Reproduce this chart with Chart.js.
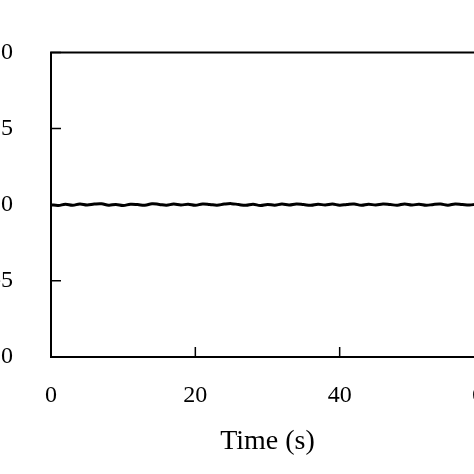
<!DOCTYPE html>
<html><head><meta charset="utf-8">
<script src="https://cdn.jsdelivr.net/npm/chart.js@4"></script>
<style>html,body{margin:0;padding:0;overflow:hidden;width:474px;height:474px;background:#fff}
#w{position:absolute;left:-10px;top:0;width:620px;height:474px}</style>
</head><body><div id="w"><canvas id="c" width="620" height="474"></canvas></div>
<script>
const timeSec=[0,1,2,3,4,5,6,7,8,9,10,11,12,13,14,15,16,17,18,19,20,21,22,23,24,25,26,27,28,29,30,31,32,33,34,35,36,37,38,39,40,41,42,43,44,45,46,47,48,49,50,51,52,53,54,55,56,57,58,59,60];
const signal=[0,-0.05,0.03,-0.04,0.05,-0.02,0.04,0.06,-0.03,0.02,-0.05,0.03,0.01,-0.04,0.06,0.02,-0.03,0.04,-0.02,0.03,-0.04,0.05,0.02,-0.03,0.04,0.07,0.01,-0.04,0.03,-0.05,0.02,-0.03,0.04,-0.02,0.05,0.01,-0.04,0.03,-0.02,0.04,-0.03,0.02,0.05,-0.04,0.03,-0.02,0.04,0.01,-0.03,0.05,-0.02,0.03,-0.04,0.02,0.04,-0.03,0.05,0.01,-0.02,0.03,0];
const xTicks=[0,20,40,60];
const yTicks=[-10,-5,0,5,10];
const F='"Liberation Serif","Times New Roman",serif';
const inTicks={id:'inTicks',afterDraw(ch){const c=ch.ctx,x=ch.scales.x,y=ch.scales.y,a=ch.chartArea;c.save();c.strokeStyle='#000';c.lineWidth=1.5;c.beginPath();
for(const v of yTicks){const p=y.getPixelForValue(v);c.moveTo(a.left,p);c.lineTo(a.left+10,p);}
for(const v of xTicks){const p=x.getPixelForValue(v);c.moveTo(p,a.bottom);c.lineTo(p,a.bottom-10);}
c.stroke();c.lineWidth=2;c.beginPath();c.moveTo(a.left,a.bottom);c.lineTo(a.left,a.top);c.lineTo(a.right,a.top);c.lineTo(a.right,a.bottom);c.closePath();c.stroke();c.restore();}};
new Chart(document.getElementById('c'),{type:'line',
data:{datasets:[{data:timeSec.map((t,i)=>({x:t,y:signal[i]})),borderColor:'#000',borderWidth:3,pointRadius:0,tension:0.4}]},
options:{responsive:false,animation:false,events:[],
layout:{padding:{top:18,right:126,left:0,bottom:0}},
plugins:{legend:{display:false},tooltip:{enabled:false}},
scales:{
x:{type:'linear',min:0,max:60,afterBuildTicks(s){s.ticks=xTicks.map(v=>({value:v}));},
afterFit(s){s.height=117;},
grid:{display:false,drawTicks:false},border:{display:false},
ticks:{color:'#000',font:{family:F,size:24},padding:24,maxRotation:0},
title:{display:true,text:'Time (s)',color:'#000',font:{family:F,size:28},padding:{top:0,bottom:16}}},
y:{min:-10,max:10,afterBuildTicks(s){s.ticks=yTicks.map(v=>({value:v}));},
afterFit(s){s.width=61;},
grid:{display:false,drawTicks:false},border:{display:false},
ticks:{color:'#000',font:{family:F,size:24},padding:38}}}},
plugins:[inTicks]});
</script></body></html>
